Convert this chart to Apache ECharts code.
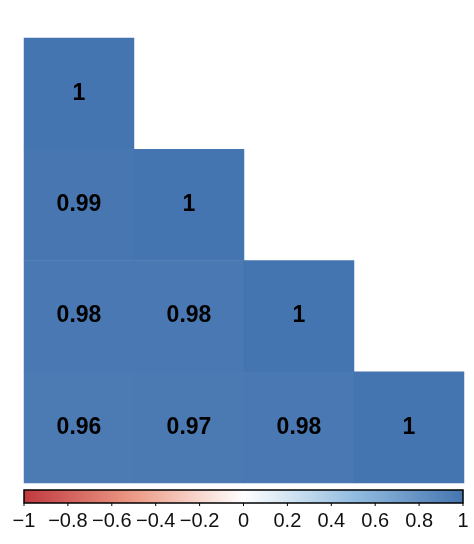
<!DOCTYPE html>
<html><head><meta charset="utf-8">
<script src="https://cdn.jsdelivr.net/npm/echarts@6/dist/echarts.min.js"></script>
<style>html,body{margin:0;padding:0;background:#fff}#chart{width:474px;height:544px}</style>
</head><body><div id="chart"></div>
<script>
var names = ['A', 'B', 'C', 'D'];
// lower triangle correlations [col, row, value]
var corr = [
    [0, 0, 1],
    [0, 1, 0.99], [1, 1, 1],
    [0, 2, 0.98], [1, 2, 0.98], [2, 2, 1],
    [0, 3, 0.96], [1, 3, 0.97], [2, 3, 0.98], [3, 3, 1]
];
var barTicks = ['−1', '−0.8', '−0.6', '−0.4', '−0.2', '0', '0.2', '0.4', '0.6', '0.8', '1'];
var palette = ['#b2182b', '#d6604d', '#f4a582', '#fddbc7', '#ffffff', '#d1e5f0', '#92c5de', '#4393c3', '#4575b0'];

var chart = echarts.init(document.getElementById('chart'));
var barL = 24, barR = 463, barT = 490, barB = 503;
var g = [{
    type: 'rect', shape: {x: barL, y: barT, width: barR - barL, height: barB - barT},
    style: {
        fill: new echarts.graphic.LinearGradient(0, 0, 1, 0, [
            {offset: 0, color: '#c0393f'}, {offset: 0.25, color: '#ec9a85'},
            {offset: 0.5, color: '#ffffff'}, {offset: 0.75, color: '#93bde0'},
            {offset: 1, color: '#4575b0'}]),
        stroke: '#000', lineWidth: 1.5
    }
}];
barTicks.forEach(function (t, i) {
    var x = barL + i * (barR - barL) / 10;
    g.push({type: 'line', shape: {x1: x, y1: barB, x2: x, y2: barB + 3}, style: {stroke: '#000', lineWidth: 1}});
    g.push({type: 'text', x: x, y: 521, style: {text: t, fill: '#111', font: '20px Arial, "Liberation Sans"', align: 'center', verticalAlign: 'middle'}});
});

chart.setOption({
    animation: false,
    grid: {left: 24, right: 10, top: 38, bottom: 61},
    xAxis: {type: 'category', data: names, show: false},
    yAxis: {type: 'category', data: names, inverse: true, show: false},
    visualMap: {show: false, min: -1, max: 1, inRange: {color: ['#c0393f', '#ffffff', '#4575b0']}},
    series: [{
        type: 'heatmap', data: corr,
        label: {show: true, color: '#000', fontWeight: 'bold', fontSize: 23, fontFamily: 'Arial, "Liberation Sans"'},
        itemStyle: {borderWidth: 0}
    }],
    graphic: g
});
</script></body></html>
